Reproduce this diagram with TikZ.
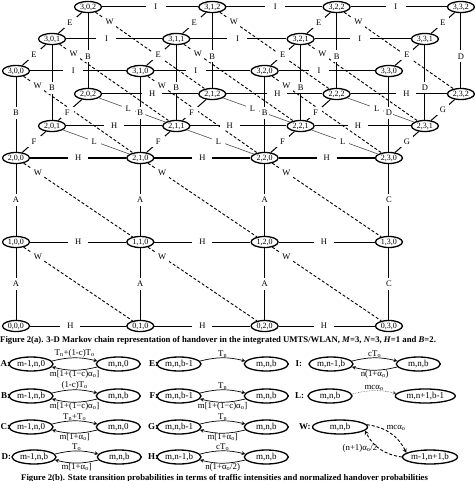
\documentclass[tikz,border=0pt]{standalone}
\usepackage{fontspec}
\setmainfont{Liberation Serif}
\usetikzlibrary{positioning,shapes.geometric}

\tikzset{
  cell/.style={draw, ellipse, line width=1.3pt, fill=white, inner sep=0pt,
    minimum width=27pt, minimum height=11pt, font=\fontsize{8}{9}\selectfont},
  hlab/.style={fill=white, inner sep=0pt, minimum width=20pt, minimum height=9pt,
    font=\fontsize{8.5}{9}\selectfont},
  vlab/.style={fill=white, inner sep=0pt, minimum width=9pt, minimum height=12pt,
    font=\fontsize{8.5}{9}\selectfont},
  dlab/.style={fill=white, inner sep=0pt, minimum width=13pt, minimum height=11pt,
    font=\fontsize{8.5}{9}\selectfont},
  link/.style={line width=1pt},
  wline/.style={line width=0.9pt, dash pattern=on 3pt off 2pt},
  lline/.style={line width=0.6pt, gray!60!black},
  pst/.style={draw, ellipse, line width=1.3pt, inner sep=0pt,
    minimum width=44pt, minimum height=14pt, font=\fontsize{9}{10}\selectfont},
  arr/.style={->, >=stealth, line width=0.7pt},
  tag/.style={inner sep=0pt, font=\fontsize{9}{10}\selectfont\bfseries},
  rate/.style={inner sep=0.2pt, font=\fontsize{8.8}{9}\selectfont}
}

\begin{document}
\begin{tikzpicture}[x=1pt, y=-1pt]
\useasboundingbox (0,0) rectangle (474,481);

% states (m,n,b)
\foreach \m/\y in {3/71, 2/158}
  \foreach \b in {0,1,2}
    \foreach \n in {0,...,3}
      \node[cell] (s\m\n\b) at ({16+124.3*\n+36*\b}, {\y-32*\b}) {\m,\n,\b};
\foreach \m/\y in {1/242, 0/326}
  \foreach \n in {0,...,3}
    \node[cell] (s\m\n0) at ({16+124.3*\n}, \y) {\m,\n,0};

% W: dashed, to (m-1,n+1,b)
\foreach \n/\j in {0/1,1/2,2/3}
  \foreach \b in {0,1,2}
    \draw[wline] (s3\n\b) -- node[dlab, pos=.13] {W} (s2\j\b);
\foreach \m/\k in {2/1,1/0}
  \foreach \n/\j in {0/1,1/2,2/3}
    \draw[wline] (s\m\n0) -- node[dlab, pos=.13] {W} (s\k\j0);

% L: to (2,n+1,b-1)
\foreach \n/\j in {0/1,1/2,2/3} {
  \draw[lline] (s2\n1) -- node[dlab, pos=.47, text=black] {L} (s2\j0);
  \draw[lline] (s2\n2) -- node[dlab, pos=.44, text=black] {L} (s2\j1);
}

% vertical
\foreach \n/\lt in {0/B,1/B,2/B,3/D} {
  \draw[link] (s3\n0) -- node[vlab, pos=.48] {\lt} (s2\n0);
  \draw[link] (s3\n1) -- node[vlab, pos=.57] {\lt} (s2\n1);
  \draw[link] (s3\n2) -- node[vlab, pos=.58] {\lt} (s2\n2);
}
\foreach \n/\lt in {0/A,1/A,2/A,3/C} {
  \draw[link] (s2\n0) -- node[vlab] {\lt} (s1\n0);
  \draw[link] (s1\n0) -- node[vlab] {\lt} (s0\n0);
}

% horizontal
\foreach \b/\pa/\pb/\pc in {0/.45/.43/.42, 1/.42/.49/.47, 2/.56/.51/.47} {
  \draw[link] (s30\b) -- node[hlab, pos=\pa] {I} (s31\b);
  \draw[link] (s31\b) -- node[hlab, pos=\pb] {I} (s32\b);
  \draw[link] (s32\b) -- node[hlab, pos=\pc] {I} (s33\b);
}
\foreach \b/\pa/\pb/\pc in {0/.5/.5/.5, 1/.5/.41/.45, 2/.52/.53/.58} {
  \draw[link] (s20\b) -- node[hlab, pos=\pa] {H} (s21\b);
  \draw[link] (s21\b) -- node[hlab, pos=\pb] {H} (s22\b);
  \draw[link] (s22\b) -- node[hlab, pos=\pc] {H} (s23\b);
}
\foreach \m/\pa in {1/.5, 0/.42} {
  \draw[link] (s\m00) -- node[hlab, pos=\pa] {H} (s\m10);
  \draw[link] (s\m10) -- node[hlab] {H} (s\m20);
  \draw[link] (s\m20) -- node[hlab, pos=.47] {H} (s\m30);
}

% diagonal (b)
\foreach \n in {0,...,3} {
  \draw[link] (s3\n0) -- node[dlab] {E} (s3\n1);
  \draw[link] (s3\n1) -- node[dlab] {E} (s3\n2);
}
\foreach \n/\lt/\p in {0/F/.38, 1/F/.38, 2/F/.38, 3/G/.5} {
  \draw[link] (s2\n0) -- node[dlab] {\lt} (s2\n1);
  \draw[link] (s2\n1) -- node[dlab, pos=\p] {\lt} (s2\n2);
}

\node[anchor=west, inner sep=0pt, font=\fontsize{8.7}{10}\selectfont\bfseries] (capa) at (0,340)
  {Figure 2(a). 3-D Markov chain representation of handover in the integrated UMTS/WLAN, \textit{M}=3, \textit{N}=3, \textit{H}=1 and \textit{B}=2.};

% transition rates
\node[pst] (a1) at (31,364) {m-1,n,0};
\node[pst, right=42pt of a1] (a2) {m,n,0};
\node[tag, left=-2pt of a1] (ta) {A:};
\draw[arr] (a1.8) to[bend left=14] node[rate, above] {T\textsubscript{n}+(1-c)T\textsubscript{o}} (a2.172);
\draw[arr] (a2.188) to[bend left=14] node[rate, below] {m[1+(1−c)α\textsubscript{o}]} (a1.352);

\node[pst] (b1) at (31,396) {m-1,n,b};
\node[pst, right=42pt of b1] (b2) {m,n,b};
\node[tag, left=-2pt of b1] (tb) {B:};
\draw[arr] (b1.8) to[bend left=14] node[rate, above] {(1-c)T\textsubscript{o}} (b2.172);
\draw[arr] (b2.188) to[bend left=14] node[rate, below] {m[1+(1−c)α\textsubscript{o}]} (b1.352);

\node[pst] (c1) at (31,427) {m-1,n,0};
\node[pst, right=42pt of c1] (c2) {m,n,0};
\node[tag, left=-2pt of c1] (tc) {C:};
\draw[arr] (c1.8) to[bend left=14] node[rate, above] {T\textsubscript{n}+T\textsubscript{o}} (c2.172);
\draw[arr] (c2.188) to[bend left=14] node[rate, below] {m[1+α\textsubscript{o}]} (c1.352);

\node[pst] (d1) at (34,457) {m-1,n,b};
\node[pst, right=40pt of d1] (d2) {m,n,b};
\node[tag, left=0pt of d1] (td) {D:};
\draw[arr] (d1.8) to[bend left=14] node[rate, above] {T\textsubscript{o}} (d2.172);
\draw[arr] (d2.188) to[bend left=14] node[rate, below] {m[1+α\textsubscript{o}]} (d1.352);

\node[pst] (e1) at (179,364) {m,n,b-1};
\node[pst, right=42pt of e1] (e2) {m,n,b};
\node[tag, left=-2pt of e1] (te) {E:};
\draw[arr] (e1.8) to[bend left=14] node[rate, above] {T\textsubscript{n}} (e2.172);

\node[pst] (f1) at (179,396) {m,n,b-1};
\node[pst, right=42pt of f1] (f2) {m,n,b};
\node[tag, left=-2pt of f1] (tf) {F:};
\draw[arr] (f1.8) to[bend left=14] node[rate, above] {T\textsubscript{n}} (f2.172);
\draw[arr] (f2.188) to[bend left=14] node[rate, below] {m[1+(1−c)α\textsubscript{o}]} (f1.352);

\node[pst] (g1) at (179,427) {m,n,b-1};
\node[pst, right=42pt of g1] (g2) {m,n,b};
\node[tag, left=-2pt of g1] (tg) {G:};
\draw[arr] (g1.8) to[bend left=14] node[rate, above] {T\textsubscript{n}} (g2.172);
\draw[arr] (g2.188) to[bend left=14] node[rate, below] {m[1+α\textsubscript{o}]} (g1.352);

\node[pst] (h1) at (179,457) {m,n-1,b};
\node[pst, right=42pt of h1] (h2) {m,n,b};
\node[tag, left=-2pt of h1] (th) {H:};
\draw[arr] (h1.8) to[bend left=14] node[rate, above] {cT\textsubscript{o}} (h2.172);
\draw[arr] (h2.188) to[bend left=14] node[rate, below] {n(1+α\textsubscript{o}/2)} (h1.352);

\node[pst] (i1) at (331,364) {m,n-1,b};
\node[pst, right=42pt of i1] (i2) {m,n,b};
\node[tag, left=6pt of i1] (ti) {I:};
\draw[arr] (i1.8) to[bend left=14] node[rate, above] {cT\textsubscript{o}} (i2.172);
\draw[arr] (i2.188) to[bend left=14] node[rate, below] {n(1+α\textsubscript{o})} (i1.352);

\node[pst] (l1) at (330,396) {m,n,b};
\node[pst, minimum width=60pt, right=42pt of l1] (l2) {m,n+1,b-1};
\node[tag, left=3pt of l1] (tl) {L:};
\draw[arr, lline, densely dotted] (l1.5) to[bend left=14] node[rate, above, text=black] {mcα\textsubscript{o}} (l2.175);

\node[pst, minimum width=55pt] (w1) at (340,427) {m,n,b};
\node[pst, minimum width=55pt] (w2) at (430,457) {m-1,n+1,b};
\node[tag, left=1pt of w1] (tw) {W:};
\node[rate] (wr1) at (396,428) {mcα\textsubscript{o}};
\node[rate] (wr2) at (360,448) {(n+1)α\textsubscript{o}/2};
\draw[arr, wline] (w1.5) to[bend left=28] (w2.170);
\draw[arr, wline] (w2.180) to[bend left=28] (w1.352);

\node[anchor=west, inner sep=0pt, font=\fontsize{8.7}{10}\selectfont\bfseries] (capb) at (21,478)
  {Figure 2(b). State transition probabilities in terms of traffic intensities and normalized handover probabilities};
\end{tikzpicture}
\end{document}
